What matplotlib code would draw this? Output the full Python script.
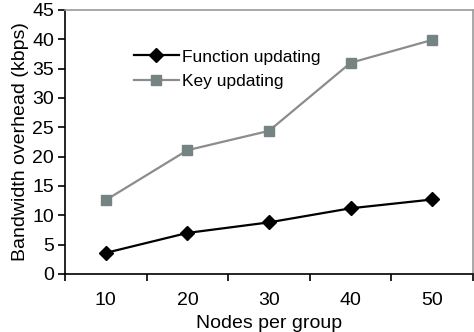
import matplotlib.pyplot as plt
import numpy as np

plt.rcParams['font.family'] = ['Liberation Sans', 'DejaVu Sans']

nodes = [10, 20, 30, 40, 50]
function_updating = [3.6, 7.0, 8.8, 11.2, 12.7]
key_updating = [12.6, 21.1, 24.4, 36.0, 39.9]

fig = plt.figure(figsize=(4.74, 3.32), dpi=100)
ax = fig.add_axes([65 / 474, 1 - 274 / 332, 408 / 474, 264 / 332])

x = np.arange(len(nodes))
ax.plot(x, function_updating, color='black', lw=1.6, marker='D', ms=7,
        label='Function updating')
ax.plot(x, key_updating, color='#8c8c8c', lw=1.6, marker='s', ms=7.5,
        mfc='#768383', mec='#768383', label='Key updating')

ax.set_xlim(-0.5, len(nodes) - 0.5)
ax.set_ylim(0, 45)
ax.set_yticks(range(0, 46, 5))
ax.set_xticks(x)
ax.set_xticklabels([str(n) for n in nodes])
ax.set_xticks(np.arange(-0.5, len(nodes)), minor=True)
ax.tick_params(axis='x', which='major', length=0, pad=13, labelsize=14)
ax.tick_params(axis='x', which='minor', length=5, width=1.2, direction='out')
ax.tick_params(axis='y', length=5, width=1.2, direction='out', labelsize=14, pad=3)

for s in ['top', 'right']:
    ax.spines[s].set_color('#999999')
    ax.spines[s].set_linewidth(1.2)
for s in ['left', 'bottom']:
    ax.spines[s].set_color('black')
    ax.spines[s].set_linewidth(1.2)

ax.set_xlabel('Nodes per group', fontsize=14, labelpad=4)
ax.set_ylabel('Bandwidth overhead (kbps)', fontsize=14, labelpad=2)

ax.legend(loc='upper left', bbox_to_anchor=(0.13, 0.91), frameon=False,
          fontsize=12.5, handlelength=2.6, handletextpad=0.2, labelspacing=0.55)

fig.savefig('out.png', dpi=100)
